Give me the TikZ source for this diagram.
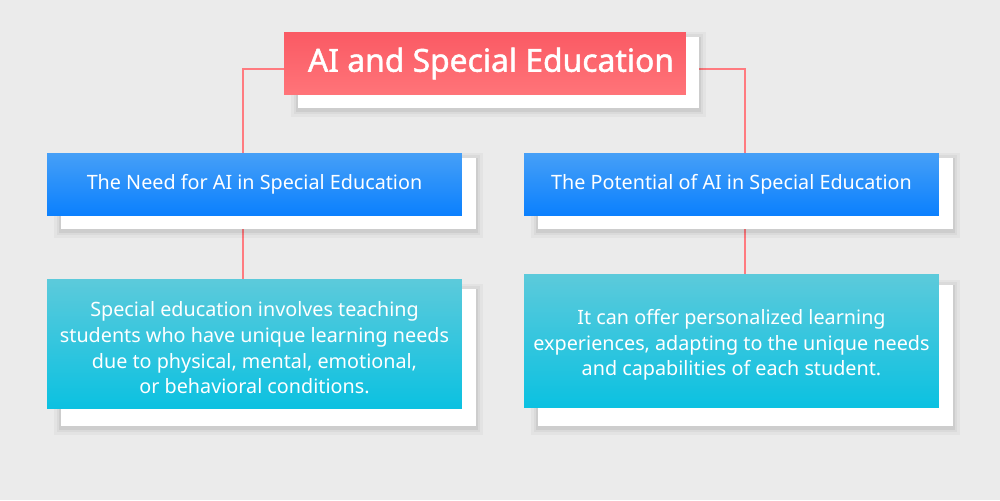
\documentclass[tikz,border=0pt]{standalone}
\usepackage{fontspec}
\setmainfont{Noto Sans}
\newfontfamily\titlefont{Noto Sans}[FakeBold=1.4]
\definecolor{pagegray}{HTML}{EBEBEB}
\definecolor{titletop}{HTML}{FA5A64}
\definecolor{titlebot}{HTML}{FF7479}
\definecolor{headtop}{HTML}{469FF7}
\definecolor{headbot}{HTML}{0A80FE}
\definecolor{texttop}{HTML}{5CCADB}
\definecolor{textbot}{HTML}{0BC1E1}
\definecolor{linkred}{HTML}{FF7B80}
\pgfdeclarelayer{back}
\pgfdeclarelayer{wires}
\pgfsetlayers{back,wires,main}
\begin{document}
\begin{tikzpicture}[
    x=0.02cm, y=-0.02cm,
    halo/.style 2 args={preaction={draw=black, draw opacity=#1, line width=#2, transform canvas={yshift=-1pt}}},
    backbox/.style={rectangle, fill=white, minimum width=8.3cm,
      halo={0.03}{8pt}, halo={0.04}{5pt}, halo={0.06}{2.5pt}},
    titlebox/.style={rectangle, top color=titletop, bottom color=titlebot, minimum width=8.04cm, minimum height=1.26cm, text=white, font=\titlefont\fontsize{18.1}{22}\selectfont},
    headbox/.style={rectangle, top color=headtop, bottom color=headbot, minimum width=8.3cm, minimum height=1.26cm, text=white, font=\fontsize{11.25}{14}\selectfont},
    textbox/.style={rectangle, top color=texttop, bottom color=textbot, minimum width=8.3cm, text=white, align=center, font=\fontsize{11.25}{14.6}\selectfont},
    link/.style={draw=linkred, line width=1.2pt}
    ]
    \begin{pgfonlayer}{back}
      \fill[pagegray] (0,0) rectangle (1000,500);
    \end{pgfonlayer}
    \useasboundingbox (0,0) rectangle (1000,500);

    % white boxes behind
    \node[backbox, minimum width=8.02cm, minimum height=1.42cm] (titleback) at (498.5,72.5) {};
    \node[backbox, minimum height=1.42cm] (needheadback) at (268.5,193.5) {};
    \node[backbox, minimum height=2.74cm] (needtextback) at (268.5,357.5) {};
    \node[backbox, minimum height=1.42cm] (poteheadback) at (745.5,193.5) {};
    \node[backbox, minimum height=2.82cm] (potetextback) at (745.5,355.5) {};

    \node[titlebox] (title) at (485,63.5) {\makebox[7.56cm][r]{AI and Special Education}};
    \node[headbox] (needhead) at (254.5,184.5) {The Need for AI in Special Education};
    \node[headbox] (potehead) at (731.5,184.5) {The Potential of AI in Special Education};
    \node[textbox, minimum height=2.6cm] (needtext) at (254.5,344) {\rule{0pt}{13pt}Special education involves teaching\\students who have unique learning needs\\due to physical, mental, emotional,\\or behavioral conditions.};
    \node[textbox, minimum height=2.68cm] (potetext) at (731.5,341) {\rule{0pt}{13pt}It can offer personalized learning\\experiences, adapting to the unique needs\\and capabilities of each student.};

    \begin{pgfonlayer}{wires}
      \draw[link] ([yshift=-0.11cm]title.west) -| ([xshift=-0.23cm]needhead.north);
      \draw[link] ([yshift=-0.11cm]title.east) -| ([xshift=0.27cm]potehead.north);
      \draw[link] ([xshift=-0.23cm]needhead.south) -- ([xshift=-0.23cm]needtext.north);
      \draw[link] ([xshift=0.27cm]potehead.south) -- ([xshift=0.27cm]potetext.north);
    \end{pgfonlayer}
\end{tikzpicture}
\end{document}
